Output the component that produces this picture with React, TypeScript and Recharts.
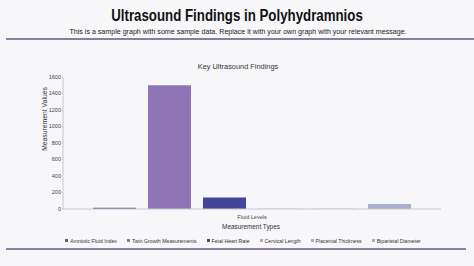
import React from "react";
import { Bar, BarChart, XAxis, YAxis } from "recharts";

// chart values
const categories = ["Fluid Levels"];
const seriesNames = [
    "Amniotic Fluid Index",
    "Twin Growth Measurements",
    "Fetal Heart Rate",
    "Cervical Length",
    "Placental Thickness",
    "Biparietal Diameter",
];
const seriesValues = [15, 1500, 140, 3.5, 4, 60];
const seriesColors = ["#5f5b88", "#8f74b6", "#43449a", "#b9a7d0", "#b6a8cf", "#a9aed2"];
const yTicks = [0, 200, 400, 600, 800, 1000, 1200, 1400, 1600];

const data = categories.map((name) => {
    const row: Record<string, string | number> = { name };
    seriesNames.forEach((s, i) => {
        row[s] = seriesValues[i];
    });
    return row;
});

const sans = "'Liberation Sans', Arial, sans-serif";

export default function App() {
    return (
        <div
            style={{
                position: "fixed",
                left: 0,
                top: 0,
                width: 474,
                height: 266,
                background: "#f7f7fa",
                fontFamily: sans,
                overflow: "hidden",
            }}
        >
            <div
                style={{
                    position: "absolute",
                    top: 7,
                    width: 474,
                    textAlign: "center",
                    fontWeight: "bold",
                    fontSize: 16,
                    color: "#111",
                    transform: "scaleX(0.83)",
                }}
            >
                Ultrasound Findings in Polyhydramnios
            </div>
            <div
                style={{
                    position: "absolute",
                    top: 28,
                    width: 476,
                    textAlign: "center",
                    fontSize: 7.1,
                    color: "#222",
                }}
            >
                This is a sample graph with some sample data. Replace it with your own graph with your relevant message.
            </div>
            <div style={{ position: "absolute", left: 6, top: 38, width: 468, height: 2, background: "#8a7d9e" }} />

            <div
                style={{
                    position: "absolute",
                    top: 62,
                    width: 476,
                    textAlign: "center",
                    fontSize: 7.4,
                    color: "#333333",
                }}
            >
                Key Ultrasound Findings
            </div>

            <div style={{ position: "absolute", left: 0, top: 0 }}>
                <BarChart
                    width={474}
                    height={266}
                    data={data}
                    margin={{ top: 77, right: 33, bottom: 45, left: 43 }}
                    barCategoryGap={30}
                    barGap={12}
                >
                    <XAxis
                        dataKey="name"
                        stroke="#c8c8cc"
                        tick={{ fontSize: 5.5, fill: "#444" }}
                        tickLine={false}
                        tickSize={4}
                        tickMargin={2}
                        height={12}
                    />
                    <YAxis
                        domain={[0, 1600]}
                        ticks={yTicks}
                        stroke="#c8c8cc"
                        width={20}
                        tickSize={1}
                        tickMargin={1}
                        tick={{ fontSize: 5.5, fill: "#444" }}
                        interval={0}
                    />
                    {seriesNames.map((s, i) => (
                        <Bar key={s} dataKey={s} fill={seriesColors[i]} isAnimationActive={false} />
                    ))}
                </BarChart>
            </div>

            <div
                style={{
                    position: "absolute",
                    left: 44,
                    top: 119,
                    transform: "translate(-50%, -50%) rotate(-90deg)",
                    fontSize: 6.8,
                    color: "#333",
                    whiteSpace: "nowrap",
                }}
            >
                Measurement Values
            </div>
            <div
                style={{
                    position: "absolute",
                    left: 63,
                    width: 376,
                    top: 223,
                    textAlign: "center",
                    fontSize: 6.4,
                    color: "#333",
                }}
            >
                Measurement Types
            </div>

            <div
                style={{
                    position: "absolute",
                    left: 10,
                    width: 466,
                    top: 237.5,
                    display: "flex",
                    justifyContent: "center",
                    gap: 10,
                    fontSize: 5.2,
                    color: "#333",
                }}
            >
                {seriesNames.map((s, i) => (
                    <div key={s} style={{ display: "flex", alignItems: "center", gap: 2 }}>
                        <span style={{ width: 3, height: 3, background: seriesColors[i], display: "inline-block" }} />
                        <span>{s}</span>
                    </div>
                ))}
            </div>
            <div style={{ position: "absolute", left: 6, top: 248, width: 460, height: 2, background: "#8a7d9e" }} />
        </div>
    );
}
